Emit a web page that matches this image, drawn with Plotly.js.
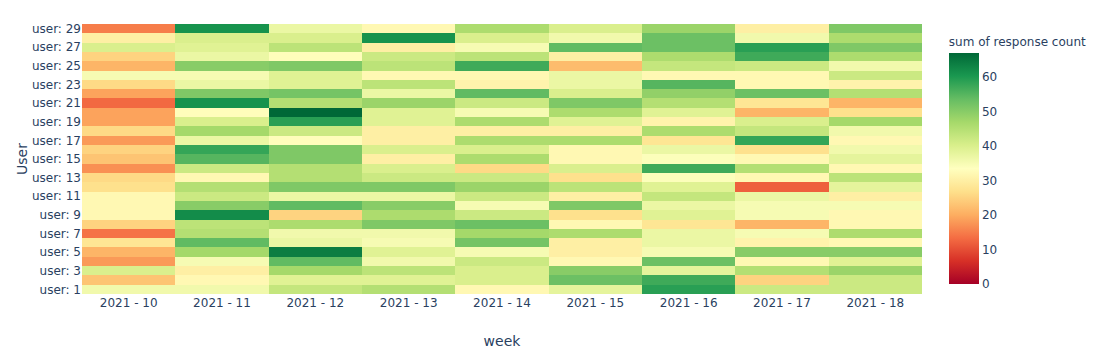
<!DOCTYPE html>
<html>
<head>
<meta charset="utf-8">
<script src="https://cdn.plot.ly/plotly-3.0.1.min.js"></script>
<style>html,body{margin:0;padding:0;background:#fff;}#chart{width:1100px;height:356px;}</style>
</head>
<body>
<div id="chart"></div>
<script>
// users (bottom to top)
const users = Array.from({length: 29}, (_, i) => 'user: ' + (i + 1));
const weeks = ['2021 - 10','2021 - 11','2021 - 12','2021 - 13','2021 - 14','2021 - 15','2021 - 16','2021 - 17','2021 - 18'];

// sum of response count per week, user 1 .. user 29
const w10 = [36,23,40,18,21,28,14,25,32,32,32,27,26,17,23,25,18,26,19,19,13,19,26,35,21,25,40,30,15];
const w11 = [36,32,30,35,47,54,45,44,62,50,42,45,32,42,55,58,37,47,40,33,61,51,37,35,50,37,39,40,61];
const w12 = [43,39,47,54,64,37,36,46,25,54,37,51,45,45,51,51,33,42,59,67,45,52,39,39,51,33,44,40,37];
const w13 = [45,39,44,36,39,35,36,51,46,50,37,51,42,40,30,40,30,30,39,39,48,37,44,32,44,42,30,61,32];
const w14 = [32,40,40,42,35,52,47,53,42,35,42,48,42,26,46,40,46,30,46,35,42,54,31,32,57,44,35,40,46];
const w15 = [38,53,50,32,30,30,46,32,27,51,30,44,27,40,32,32,46,30,39,46,51,40,37,37,22,30,54,36,40];
const w16 = [59,57,38,53,35,37,37,28,39,37,43,39,34,57,34,37,28,46,31,39,45,49,55,32,43,46,53,53,48];
const w17 = [42,25,45,32,50,31,35,21,35,35,37,12,32,45,32,27,58,43,40,21,28,53,32,32,42,57,59,36,30];
const w18 = [42,42,48,39,50,32,46,32,32,35,30,38,44,32,38,36,32,36,47,27,21,45,31,42,36,46,51,46,51];

const cols = [w10,w11,w12,w13,w14,w15,w16,w17,w18];
const z = users.map((u, r) => cols.map(c => c[r]));

const RdYlGn = [
  [0.0,'#a50026'],[0.1,'#d73027'],[0.2,'#f46d43'],[0.3,'#fdae61'],[0.4,'#fee08b'],
  [0.5,'#ffffbf'],[0.6,'#d9ef8b'],[0.7,'#a6d96a'],[0.8,'#66bd63'],[0.9,'#1a9850'],[1.0,'#006837']
];

const trace = {
  type: 'heatmap',
  x: weeks,
  y: users,
  z: z,
  zmin: 0,
  zmax: 67,
  colorscale: RdYlGn,
  colorbar: {
    title: {text: 'sum of response count', side: 'top', font: {size: 12, color: '#2a3f5f'}},
    outlinewidth: 0,
    ticks: '',
    thickness: 30,
    tickfont: {size: 12, color: '#2a3f5f'}
  }
};

const layout = {
  width: 1100,
  height: 356,
  margin: {l: 82, r: 178, t: 24, b: 62, autoexpand: false},
  paper_bgcolor: '#fff',
  plot_bgcolor: '#E5ECF6',
  font: {family: '"DejaVu Sans", Verdana, Arial, sans-serif', size: 12, color: '#2a3f5f'},
  xaxis: {
    title: {text: 'week', font: {size: 14}},
    type: 'category',
    showgrid: false,
    ticks: '',
    tickfont: {size: 12}
  },
  yaxis: {
    title: {text: 'User', font: {size: 14}},
    type: 'category',
    showgrid: false,
    ticks: '',
    tickfont: {size: 12}
  }
};

Plotly.newPlot('chart', [trace], layout, {displayModeBar: false, staticPlot: true});
</script>
</body>
</html>
